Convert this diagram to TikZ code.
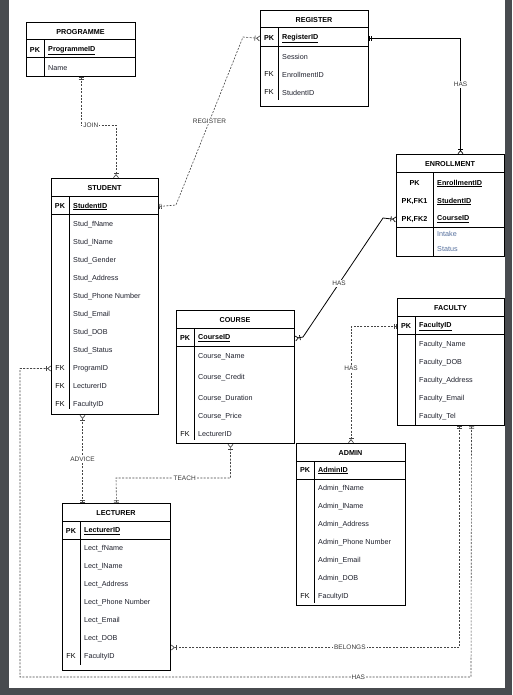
\documentclass[tikz,border=0pt]{standalone}
\usepackage{fontspec}
\setmainfont{Liberation Sans}
\usetikzlibrary{arrows.meta,positioning}

\definecolor{pagegray}{RGB}{72,75,79}
\definecolor{txt}{RGB}{30,32,44}
\definecolor{lbltxt}{RGB}{56,56,56}
\definecolor{faint}{RGB}{86,112,158}
\definecolor{relgray}{RGB}{70,70,70}

\tikzset{
  erone/.tip={Bar[width=5pt,line width=0.7pt,sep=1.2pt] Bar[width=5pt,line width=0.7pt]},
  ermany/.tip={Bar[width=5pt,line width=0.7pt,sep=0.8pt] Straight Barb[reversed,length=3pt,width=5pt,line width=0.7pt]}
}

\begin{document}
\begin{tikzpicture}[
  x=1pt, y=-1pt,
  tbl/.style={draw, line width=1pt, anchor=north west, inner sep=0pt},
  rowline/.style={line width=1pt},
  hd/.style={font=\fontsize{7.2}{8}\selectfont\bfseries, yshift=-1pt},
  key/.style={font=\fontsize{7.2}{8}\selectfont, inner sep=0pt, yshift=-1.5pt},
  keyb/.style={key, font=\fontsize{7.2}{8}\selectfont\bfseries},
  attr/.style={font=\fontsize{7.2}{8}\selectfont, anchor=west, inner sep=0pt, text=txt, yshift=-1.5pt},
  pk/.style={attr, font=\fontsize{7.2}{8}\selectfont\bfseries, text=black},
  lbl/.style={fill=white, font=\fontsize{6.5}{7}\selectfont, text=lbltxt, inner sep=1pt},
  rel/.style={erone-ermany, draw=relgray, dash pattern=on 2pt off 1.4pt, line width=0.6pt},
  solidrel/.style={erone-ermany, line width=0.8pt}
]
\useasboundingbox (0,0) rectangle (512,695);
\fill[pagegray] (0,0) rectangle (512,695);
\fill[white] (9,0) rectangle (505,688);

% PROGRAMME
\node[tbl, minimum width=109pt, minimum height=54pt] (programme) at (26,22) {};
\draw[rowline] (26,40) -- (135,40) (26,58) -- (135,58) (44,40) -- (44,76);
\node[hd] at (80.5,31) {PROGRAMME};
\node[keyb] at (35,49) {PK};
\node[pk] (prgid) at (48,49) {\underline{ProgrammeID}};
\node[attr] at (48,67) {Name};

% REGISTER
\node[tbl, minimum width=108pt, minimum height=96pt] (register) at (260,10) {};
\draw[rowline] (260,28) -- (368,28) (260,47) -- (368,47) (278,28) -- (278,100);
\node[hd] at (314,19) {REGISTER};
\node[keyb] at (269,37) {PK};
\node[pk] (regid) at (282,37) {\underline{RegisterID}};
\node[attr] at (282,55) {Session};
\node[key] at (269,73) {FK};
\node[attr] at (282,73) {EnrollmentID};
\node[key] at (269,91) {FK};
\node[attr] at (282,91) {StudentID};

% ENROLLMENT
\node[tbl, minimum width=108pt, minimum height=102pt] (enroll) at (396,154) {};
\draw[rowline] (396,172) -- (504,172) (396,227) -- (504,227) (433,172) -- (433,256);
\node[hd] at (450,163) {ENROLLMENT};
\node[keyb] at (414.5,182) {PK};
\node[keyb] at (414.5,200) {PK,FK1};
\node[keyb] at (414.5,218) {PK,FK2};
\node[pk] (enrid) at (437,182) {\underline{EnrollmentID}};
\node[pk] (enrstu) at (437,200) {\underline{StudentID}};
\node[pk] (enrcrs) at (437,218) {\underline{CourseID}};
\node[attr, text=faint] at (437,232) {Intake};
\node[attr, text=faint] at (437,248) {Status};

% STUDENT
\node[tbl, minimum width=107pt, minimum height=236pt] (student) at (51,178) {};
\draw[rowline] (51,196) -- (158,196) (51,214) -- (158,214) (69,196) -- (69,409);
\node[hd] at (104.5,187) {STUDENT};
\node[keyb] at (60,205) {PK};
\node[pk] (stuid) at (73,205) {\underline{StudentID}};
\node[attr] at (73,223) {Stud\_fName};
\node[attr] at (73,241) {Stud\_lName};
\node[attr] at (73,259) {Stud\_Gender};
\node[attr] at (73,277) {Stud\_Address};
\node[attr] at (73,295) {Stud\_Phone Number};
\node[attr] at (73,313) {Stud\_Email};
\node[attr] at (73,331) {Stud\_DOB};
\node[attr] at (73,349) {Stud\_Status};
\node[key] at (60,367) {FK};
\node[attr] (stuprog) at (73,367) {ProgramID};
\node[key] at (60,385) {FK};
\node[attr] at (73,385) {LecturerID};
\node[key] at (60,403) {FK};
\node[attr] at (73,403) {FacultyID};

% COURSE
\node[tbl, minimum width=118pt, minimum height=133pt] (course) at (176,310) {};
\draw[rowline] (176,328) -- (294,328) (176,346) -- (294,346) (194,328) -- (194,440);
\node[hd] at (235,319) {COURSE};
\node[keyb] at (185,337) {PK};
\node[pk] (crsid) at (198,337) {\underline{CourseID}};
\node[attr] at (198,355) {Course\_Name};
\node[attr] at (198,376) {Course\_Credit};
\node[attr] at (198,397) {Course\_Duration};
\node[attr] at (198,415) {Course\_Price};
\node[key] at (185,433) {FK};
\node[attr] at (198,433) {LecturerID};

% FACULTY
\node[tbl, minimum width=107pt, minimum height=127pt] (faculty) at (397,298) {};
\draw[rowline] (397,316) -- (504,316) (397,334) -- (504,334) (415,316) -- (415,425);
\node[hd] at (450.5,307) {FACULTY};
\node[keyb] at (406,325) {PK};
\node[pk] (facid) at (419,325) {\underline{FacultyID}};
\node[attr] at (419,343) {Faculty\_Name};
\node[attr] at (419,361) {Faculty\_DOB};
\node[attr] at (419,379) {Faculty\_Address};
\node[attr] at (419,397) {Faculty\_Email};
\node[attr] at (419,415) {Faculty\_Tel};

% ADMIN
\node[tbl, minimum width=109pt, minimum height=162pt] (admin) at (296,443) {};
\draw[rowline] (296,461) -- (405,461) (296,479) -- (405,479) (314,461) -- (314,603);
\node[hd] at (350.5,452) {ADMIN};
\node[keyb] at (305,469) {PK};
\node[pk] (admid) at (318,469) {\underline{AdminID}};
\node[attr] at (318,487) {Admin\_fName};
\node[attr] at (318,505) {Admin\_lName};
\node[attr] at (318,523) {Admin\_Address};
\node[attr] at (318,541) {Admin\_Phone Number};
\node[attr] at (318,559) {Admin\_Email};
\node[attr] at (318,577) {Admin\_DOB};
\node[key] at (305,595) {FK};
\node[attr] at (318,595) {FacultyID};

% LECTURER
\node[tbl, minimum width=108pt, minimum height=167pt] (lecturer) at (62,503) {};
\draw[rowline] (62,521) -- (170,521) (62,539) -- (170,539) (80,521) -- (80,665);
\node[hd] at (116,512) {LECTURER};
\node[keyb] at (71,530) {PK};
\node[pk] (lecid) at (84,530) {\underline{LecturerID}};
\node[attr] at (84,547) {Lect\_fName};
\node[attr] at (84,565) {Lect\_lName};
\node[attr] at (84,583) {Lect\_Address};
\node[attr] at (84,601) {Lect\_Phone Number};
\node[attr] at (84,619) {Lect\_Email};
\node[attr] at (84,637) {Lect\_DOB};
\node[key] at (71,655) {FK};
\node[attr] at (84,655) {FacultyID};

% relationships
\coordinate (joinbend) at (116,125);
\draw[rel] (programme.south) |- node[lbl, pos=0.64] {JOIN} (joinbend) -- (joinbend |- student.north);

\coordinate (regbend1) at (176,205);
\coordinate (regbend2) at (243,37);
\draw[rel] (student.east |- stuid) -- (regbend1) -- node[lbl] {REGISTER} (regbend2) -- (register.west |- regid);

\draw[solidrel] (register.east |- regid) -| node[lbl, pos=0.7] {HAS} ([xshift=10pt]enroll.north);

\coordinate (crsbend1) at (303,337);
\coordinate (crsbend2) at (383,218);
\draw[solidrel, ermany-ermany] (course.east |- crsid) -- (crsbend1) -- node[lbl, pos=0.45] {HAS} (crsbend2) -- (enroll.west |- enrcrs);

\draw[rel] (faculty.west |- facid) -| node[lbl, pos=0.68] {HAS} (admin.north);

\draw[rel] ([xshift=-34pt]lecturer.north) -- node[lbl] {ADVICE} ([xshift=-22.5pt]student.south);

\coordinate (teachbend) at (116,478);
\draw[rel] (lecturer.north) -- (teachbend) -| node[lbl, pos=0.3] {TEACH} ([xshift=-5pt]course.south);

\draw[rel] ([xshift=8.5pt]faculty.south) |- node[lbl, pos=0.69] {BELONGS} ([yshift=-60.5pt]lecturer.east);

\coordinate (hasbend1) at (471,677);
\coordinate (hasbend2) at (20,677);
\draw[rel] ([xshift=20.5pt]faculty.south) -- (hasbend1) -- node[lbl, pos=0.25] {HAS} (hasbend2) |- (student.west |- stuprog);
\end{tikzpicture}
\end{document}
